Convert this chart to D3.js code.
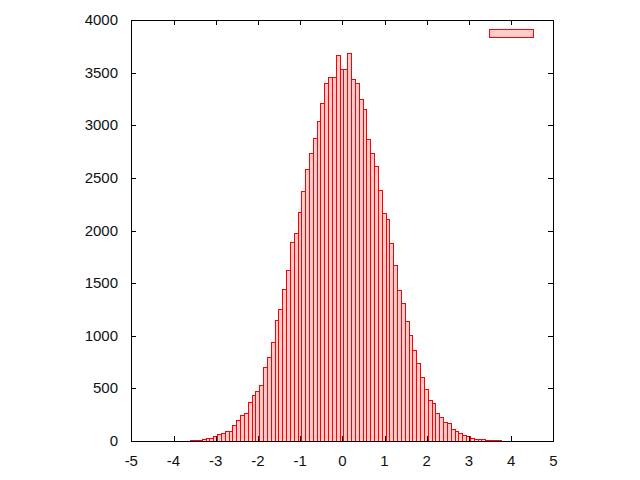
<!doctype html>
<html lang="en">
<head>
 <meta charset="utf-8">
 <script src="https://cdn.jsdelivr.net/npm/d3@7/dist/d3.min.js"></script>
 <title>Histogram</title>
 <style>
  body { margin: 0; background: #fff; }
  .tick-label { font-family: "Liberation Sans", Arial, sans-serif; font-size: 15px; fill: #111; }
 </style>
</head>
<body>
<div id="chart"></div>

<script>
    // histogram bins: first left edge and bin width
    var binStart = -3.592;
    var binWidth = 0.0908;

    // counts per bin
    var counts = [
        4, 3, 6, 19, 28, 28, 44, 63, 76, 93,
        93, 149, 195, 244, 263, 367, 434, 472, 529, 700,
        795, 937, 1146, 1251, 1441, 1622, 1890, 1976, 2173, 2375,
        2575, 2733, 2876, 3040, 3202, 3401, 3458, 3458, 3667, 3534,
        3534, 3677, 3439, 3392, 3240, 3154, 2860, 2733, 2610, 2382,
        2166, 2109, 1872, 1663, 1431, 1302, 1131, 1004, 861, 738,
        608, 494, 386, 358, 263, 225, 174, 163, 111, 90,
        73, 54, 42, 25, 18, 18, 18, 6, 5, 4,
        3
    ];

    var xTicks = [-5, -4, -3, -2, -1, 0, 1, 2, 3, 4, 5];
    var yTicks = [0, 500, 1000, 1500, 2000, 2500, 3000, 3500, 4000];

    var width = 640, height = 480;
    var plotL = 131.3, plotR = 553.3, plotT = 20, plotB = 441;

    var x = d3.scaleLinear().domain([-5, 5]).range([plotL, plotR]);
    var y = d3.scaleLinear().domain([0, 4000]).range([plotB, plotT]);

    var svg = d3.select("#chart").append("svg")
        .attr("width", width)
        .attr("height", height);

    // bars
    var bins = counts.map(function (c, i) {
        return { x0: binStart + i * binWidth, x1: binStart + (i + 1) * binWidth, n: c };
    });
    svg.append("g").selectAll("rect").data(bins).enter().append("rect")
        .attr("x", function (d) { return x(d.x0); })
        .attr("y", function (d) { return y(d.n); })
        .attr("width", function (d) { return x(d.x1) - x(d.x0); })
        .attr("height", function (d) { return y(0) - y(d.n); })
        .attr("fill", "#ffcccc")
        .attr("stroke", "#ff0000")
        .attr("stroke-width", 1)
        .attr("shape-rendering", "crispEdges");

    // axes, ticks mirrored inside on all sides
    var tl = 5;
    var axes = svg.append("g").attr("shape-rendering", "crispEdges");
    axes.append("g").attr("transform", "translate(0," + plotB + ")")
        .call(d3.axisBottom(x).tickValues(xTicks).tickSize(-tl).tickFormat(""));
    axes.append("g").attr("transform", "translate(0," + plotT + ")")
        .call(d3.axisTop(x).tickValues(xTicks).tickSize(-tl).tickFormat(""));
    axes.append("g").attr("transform", "translate(" + plotL + ",0)")
        .call(d3.axisLeft(y).tickValues(yTicks).tickSize(-tl).tickFormat(""));
    axes.append("g").attr("transform", "translate(" + plotR + ",0)")
        .call(d3.axisRight(y).tickValues(yTicks).tickSize(-tl).tickFormat(""));
    axes.selectAll(".domain").remove();
    axes.selectAll("line").attr("stroke", "#000");

    axes.append("rect")
        .attr("x", plotL).attr("y", plotT)
        .attr("width", plotR - plotL).attr("height", plotB - plotT)
        .attr("fill", "none").attr("stroke", "#000").attr("stroke-width", 1);

    // tick labels
    svg.selectAll(".xl").data(xTicks).enter().append("text")
        .attr("class", "tick-label")
        .attr("x", function (d) { return x(d); })
        .attr("y", 466)
        .attr("text-anchor", "middle")
        .text(function (d) { return d; });

    svg.selectAll(".yl").data(yTicks).enter().append("text")
        .attr("class", "tick-label")
        .attr("x", 118)
        .attr("y", function (d) { return y(d) + 5; })
        .attr("text-anchor", "end")
        .text(function (d) { return d; });

    // key sample (no title)
    svg.append("rect")
        .attr("x", 489.3).attr("y", 29.3)
        .attr("width", 44).attr("height", 8)
        .attr("fill", "#ffcccc")
        .attr("stroke", "#ff0000")
        .attr("stroke-width", 1)
        .attr("shape-rendering", "crispEdges");
</script>
</body>
</html>
